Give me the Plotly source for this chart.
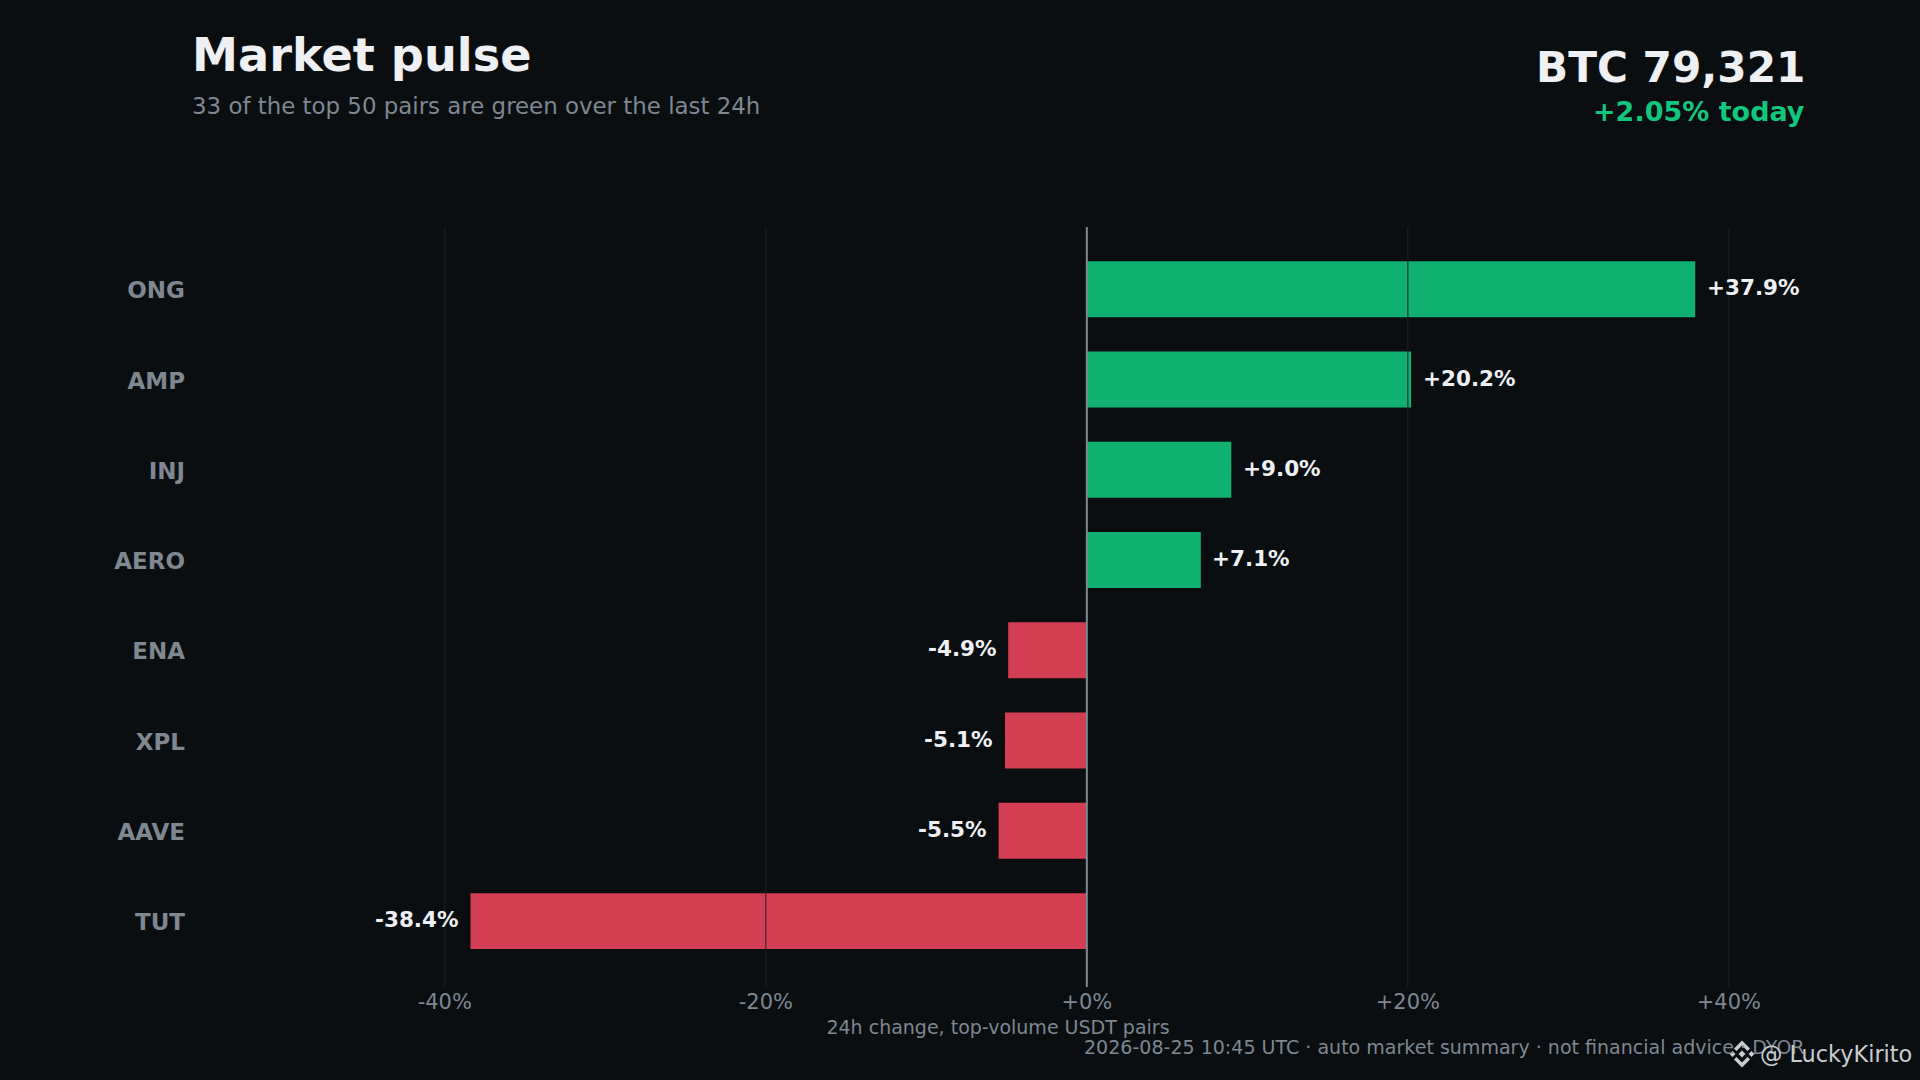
"""
Market pulse: 24h change of selected top-volume USDT pairs, horizontal bars on a dark page.
"""

import plotly.graph_objects as go

W, H = 1920, 1080
# plot box in page pixels
LEFT, RIGHT, TOP, BOTTOM = 192, 1804, 227, 987

symbols = ["ONG", "AMP", "INJ", "AERO", "ENA", "XPL", "AAVE", "TUT"]
changes = [37.9, 20.2, 9.0, 7.1, -4.9, -5.1, -5.5, -38.4]
tick_vals = [-40, -20, 0, 20, 40]
tick_text = ["-40%", "-20%", "+0%", "+20%", "+40%"]

BG = "#0a0e11"
GREEN = "#0fb070"
RED = "#d33e52"
MUTED = "#7f8791"
WHITE = "#eef0f3"
GRID = "#1c2127"
ZERO = "#7f8791"
FONT = "DejaVu Sans"


def px_x(x):
    return x / (RIGHT - LEFT) - LEFT / (RIGHT - LEFT)


def px_y(y):
    return (BOTTOM - y) / (BOTTOM - TOP)


def page_text(text, x, y, size, color, anchor="left", bold=False):
    label = f"<b>{text}</b>" if bold else text
    return dict(text=label, x=px_x(x), y=px_y(y), xref="paper", yref="paper", xanchor=anchor,
                yanchor="middle", showarrow=False, font=dict(family=FONT, size=size, color=color))


fig = go.Figure(go.Bar(
    x=changes,
    y=symbols,
    orientation="h",
    marker=dict(color=[GREEN if v >= 0 else RED for v in changes], line_width=0),
    width=0.62,
    hoverinfo="skip",
))

annotations = [
    page_text("Market pulse", 189.5, 55, 46.2, WHITE, bold=True),
    page_text("33 of the top 50 pairs are green over the last 24h", 189.5, 106, 22.9, MUTED),
    page_text("BTC 79,321", 1806.5, 67, 42.2, WHITE, "right", True),
    page_text("+2.05% today", 1806.5, 112, 27, "#10c77d", "right", True),
    page_text("2026-08-25 10:45 UTC · auto market summary · not financial advice · DYOR", 1806.5, 1047, 19.05, MUTED, "right"),
    page_text("@ LuckyKirito", 1914, 1054, 22.4, "#c9ccd1", "right"),
]

# value labels sit just off the bar end
for sym, val in zip(symbols, changes):
    annotations.append(dict(
        text=f"<b>{val:+.1f}%</b>", x=val, y=sym, xref="x", yref="y",
        xanchor="left" if val >= 0 else "right", yanchor="middle", xshift=9.5 if val >= 0 else -9.5,
        yshift=1.5, showarrow=False, font=dict(family=FONT, size=21.5, color=WHITE),
    ))

# grid runs over the bars in the reference, so draw it as shapes on the top layer
shapes = []
for tick in tick_vals:
    shapes.append(dict(type="line", xref="x", yref="paper", x0=tick, x1=tick, y0=0, y1=1, layer="above",
                       line=dict(color=ZERO if tick == 0 else GRID, width=2 if tick == 0 else 1)))

# diamond logo of the watermark, offsets from its centre in page pixels
LOGO_X, LOGO_Y = 1742, 1054
logo_parts = [
    [(0, -3.5), (3.5, 0), (0, 3.5), (-3.5, 0)],
    [(-9.5, -3), (-6.5, 0), (-9.5, 3), (-12.5, 0)],
    [(9.5, -3), (12.5, 0), (9.5, 3), (6.5, 0)],
    [(0, -13.5), (8, -5.5), (5.5, -3), (0, -8.5), (-5.5, -3), (-8, -5.5)],
    [(0, 13.5), (-8, 5.5), (-5.5, 3), (0, 8.5), (5.5, 3), (8, 5.5)],
]
for part in logo_parts:
    path = "M " + " L ".join(f"{px_x(LOGO_X + dx)} {px_y(LOGO_Y + dy)}" for dx, dy in part) + " Z"
    shapes.append(dict(type="path", path=path, xref="paper", yref="paper", fillcolor="#c9ccd1", line_width=0))

fig.update_layout(
    width=W,
    height=H,
    autosize=False,
    paper_bgcolor=BG,
    plot_bgcolor=BG,
    margin=dict(l=LEFT, r=W - RIGHT, t=TOP, b=H - BOTTOM, pad=0),
    font=dict(family=FONT, color=MUTED),
    showlegend=False,
    annotations=annotations,
    shapes=shapes,
    xaxis=dict(
        range=[-55.75, 44.68],
        tickvals=tick_vals,
        ticktext=tick_text,
        tickfont=dict(size=21, color=MUTED),
        showgrid=False,
        zeroline=False,
        showline=False,
        ticks="",
        title=dict(text="24h change, top-volume USDT pairs", font=dict(size=19, color=MUTED), standoff=7),
    ),
    yaxis=dict(
        type="category",
        range=[7.73, -0.69],
        tickfont=dict(size=23, color=MUTED, weight="bold"),
        showgrid=False,
        zeroline=False,
        showline=False,
        ticks="",
        ticklabelstandoff=6,
        ticklabelshift=-1,
    ),
)

fig.write_html("out.html", config={"displayModeBar": False}, post_script="document.body.style.margin='0';")
